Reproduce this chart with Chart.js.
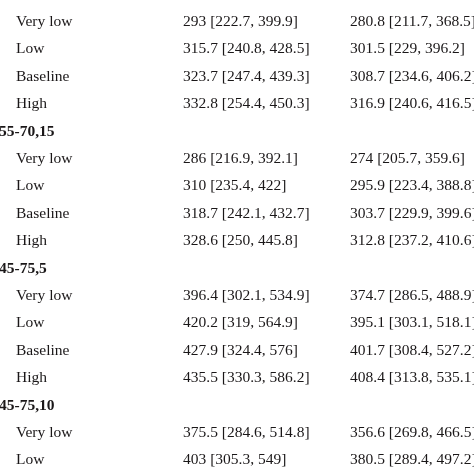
<!DOCTYPE html>
<html>
<head>
<meta charset="utf-8">
<script src="https://cdn.jsdelivr.net/npm/chart.js@4"></script>
<style>
  html, body { margin: 0; padding: 0; background: #fff; }
  #wrap { width: 474px; height: 474px; }
</style>
</head>
<body>
<div id="wrap"><canvas id="c"></canvas></div>
<script>
// table rows: group header rows have an empty level and no values
const rowLabels = ['Very low', 'Low', 'Baseline', 'High',
  '55-70,15', 'Very low', 'Low', 'Baseline', 'High',
  '45-75,5', 'Very low', 'Low', 'Baseline', 'High',
  '45-75,10', 'Very low', 'Low'];
const isHeader = [false, false, false, false,
  true, false, false, false, false,
  true, false, false, false, false,
  true, false, false];
const firstCol = ['293 [222.7, 399.9]', '315.7 [240.8, 428.5]', '323.7 [247.4, 439.3]', '332.8 [254.4, 450.3]',
  '', '286 [216.9, 392.1]', '310 [235.4, 422]', '318.7 [242.1, 432.7]', '328.6 [250, 445.8]',
  '', '396.4 [302.1, 534.9]', '420.2 [319, 564.9]', '427.9 [324.4, 576]', '435.5 [330.3, 586.2]',
  '', '375.5 [284.6, 514.8]', '403 [305.3, 549]'];
const secondCol = ['280.8 [211.7, 368.5]', '301.5 [229, 396.2]', '308.7 [234.6, 406.2]', '316.9 [240.6, 416.5]',
  '', '274 [205.7, 359.6]', '295.9 [223.4, 388.8]', '303.7 [229.9, 399.6]', '312.8 [237.2, 410.6]',
  '', '374.7 [286.5, 488.9]', '395.1 [303.1, 518.1]', '401.7 [308.4, 527.2]', '408.4 [313.8, 535.1]',
  '', '356.6 [269.8, 466.5]', '380.5 [289.4, 497.2]'];

const rows = rowLabels.map((_, i) => i);

// draws the table cells at positions given by the chart's scales
const tableText = {
  id: 'tableText',
  afterDatasetsDraw(chart) {
    const ctx = chart.ctx;
    const x = chart.scales.x, y = chart.scales.y;
    ctx.save();
    ctx.fillStyle = '#1a1718';
    ctx.textBaseline = 'middle';
    rows.forEach(i => {
      const py = y.getPixelForValue(i);
      if (isHeader[i]) {
        ctx.font = 'bold 15.5px "Liberation Serif"';
        ctx.fillText(rowLabels[i], x.getPixelForValue(-1), py);
        return;
      }
      ctx.font = '15.5px "Liberation Serif"';
      ctx.fillText(rowLabels[i], x.getPixelForValue(16), py);
      ctx.fillText(firstCol[i], x.getPixelForValue(183), py);
      ctx.fillText(secondCol[i], x.getPixelForValue(350), py);
    });
    ctx.restore();
  }
};

new Chart(document.getElementById('c'), {
  type: 'scatter',
  data: { datasets: [{ data: rows.map(i => ({ x: 0, y: i })), pointRadius: 0 }] },
  options: {
    responsive: true,
    maintainAspectRatio: false,
    animation: false,
    layout: { padding: 0 },
    plugins: { legend: { display: false }, tooltip: { enabled: false } },
    scales: {
      x: { type: 'linear', min: 0, max: 474, display: false },
      y: { type: 'linear', min: -0.8, max: 16.5, reverse: true, display: false }
    }
  },
  plugins: [tableText]
});
</script>
</body>
</html>
